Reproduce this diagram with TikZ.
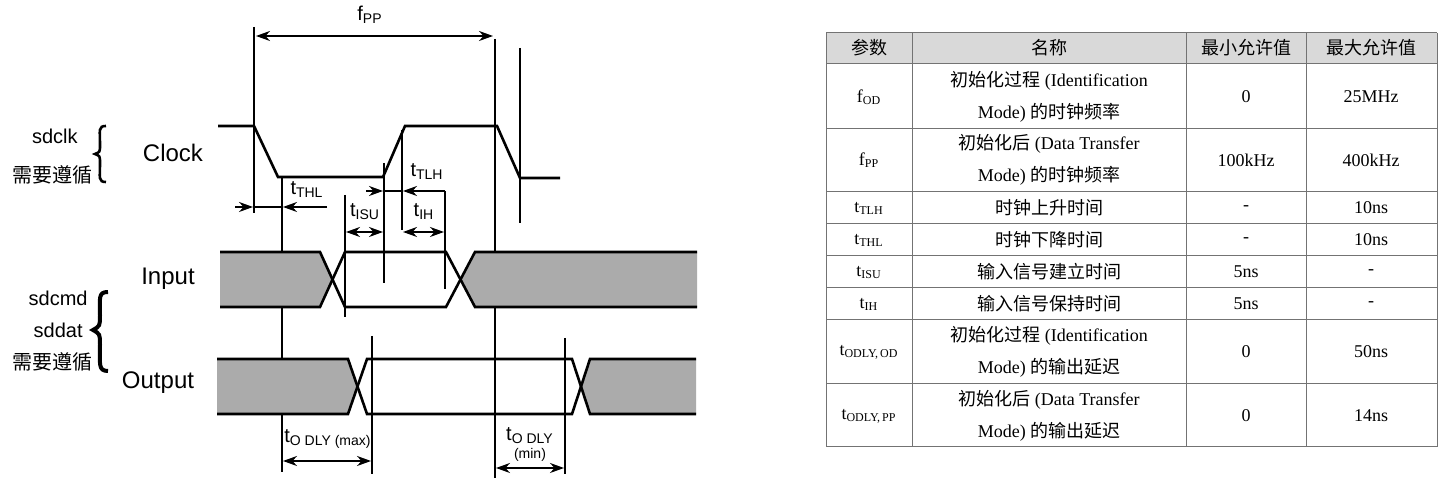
\documentclass[tikz,border=0pt]{standalone}
\usepackage{fontspec}
\setmainfont{Liberation Serif}
\setsansfont{Liberation Sans}
\newfontfamily\cjk{Noto Sans CJK SC}
\usetikzlibrary{arrows.meta}
\tikzset{
  sig/.style={line width=1.3pt},
  guide/.style={line width=0.9pt},
  dim/.style={line width=0.9pt,-{Stealth[length=7pt,width=5pt]}},
  ddim/.style={line width=0.9pt,{Stealth[length=7pt,width=5pt]}-{Stealth[length=7pt,width=5pt]}},
  lab/.style={font=\sffamily\fontsize{10}{12}\selectfont,inner sep=0pt},
  sig name/.style={font=\sffamily\fontsize{12}{14}\selectfont,inner sep=0pt},
  side/.style={font=\sffamily\fontsize{10}{12}\selectfont,inner sep=0pt,align=right},
  busfill/.style={fill=black!33},
  cell/.style={font=\fontsize{9}{16}\selectfont,inner sep=0pt,align=center},
  grid/.style={draw=black!55,line width=0.5pt},
}
\begin{document}
\begin{tikzpicture}[x=0.5pt,y=-0.5pt]
\useasboundingbox (0,0) rectangle (1440,490);
% ---------- left labels
\node[side,anchor=east] (sdclk) at (78,136) {sdclk};
\node[side,anchor=east] (nz1) at (93,175) {\cjk 需要遵循};
\draw[line width=1.3pt] (106,126) .. controls (98,126) and (100,130) .. (100,145) .. controls (100,152) .. (95,154) .. controls (100,156) .. (100,163) .. controls (100,178) and (98,182) .. (106,182);
\node[side,anchor=east] (sdcmd) at (88,298) {sdcmd};
\node[side,anchor=east] (sddat) at (83,330) {sddat};
\node[side,anchor=east] (nz2) at (93,362) {\cjk 需要遵循};
\draw[line width=2pt] (108,292) .. controls (98,292) and (100,298) .. (100,315) .. controls (100,326) .. (93,330) .. controls (100,334) .. (100,345) .. controls (100,364) and (98,371) .. (108,371);
\node[sig name] (clk) at (173,153) {Clock};
\node[sig name] (inp) at (168,279) {Input};
\node[sig name] (outp) at (158,383) {Output};
% ---------- guide lines
\draw[guide] (254,27) -- (254,213);
\draw[guide] (282,177) -- (282,472);
\draw[guide] (495,39) -- (495,478);
\draw[guide] (520,48) -- (520,223);
\draw[guide] (345,195) -- (345,317);
\draw[guide] (384,163) -- (384,283);
\draw[guide] (402,130) -- (402,230);
\draw[guide] (445,191) -- (445,289);
\draw[guide] (372,336) -- (372,474);
\draw[guide] (565,338) -- (565,474);
% ---------- clock
\draw[sig] (218,126) -- (254,126) -- (278,177) -- (383,177) -- (405,126) -- (497,126) -- (520,178) -- (560,178);
% ---------- input bus
\fill[busfill] (220,252) -- (320,252) -- (332.5,279.5) -- (320,307) -- (220,307) -- cycle;
\fill[busfill] (697,252) -- (475,252) -- (460.5,279.5) -- (475,307) -- (697,307) -- cycle;
\draw[sig] (220,252) -- (320,252) -- (345,307) -- (446,307) -- (475,252) -- (697,252);
\draw[sig] (220,307) -- (320,307) -- (345,252) -- (446,252) -- (475,307) -- (697,307);
% ---------- output bus
\fill[busfill] (217,359) -- (348,359) -- (357.5,386.5) -- (348,414) -- (217,414) -- cycle;
\fill[busfill] (696,359) -- (590,359) -- (581,386.5) -- (590,414) -- (696,414) -- cycle;
\draw[sig] (217,359) -- (348,359) -- (367,414) -- (572,414) -- (590,359) -- (696,359);
\draw[sig] (217,414) -- (348,414) -- (367,359) -- (572,359) -- (590,414) -- (696,414);
% ---------- dimensions
\coordinate (fa) at (256,36); \coordinate (fb) at (493,36);
\draw[ddim] (fa) -- (fb);
\node[lab] (fpp) at (370,15) {f\textsubscript{PP}};
\coordinate (ta1) at (235,207); \coordinate (ta2) at (253,207);
\coordinate (tb1) at (327,207); \coordinate (tb2) at (283,207);
\draw[dim] (ta1) -- (ta2); \draw[guide] (254,207) -- (282,207); \draw[dim] (tb1) -- (tb2);
\node[lab] (tthl) at (307,190) {t\textsubscript{THL}};
\coordinate (tc1) at (366,191); \coordinate (tc2) at (383,191);
\coordinate (td1) at (445,191); \coordinate (td2) at (403,191);
\draw[dim] (tc1) -- (tc2); \draw[guide] (384,191) -- (402,191); \draw[dim] (td1) -- (td2);
\node[lab] (ttlh) at (427,172) {t\textsubscript{TLH}};
\coordinate (ia) at (346,232); \coordinate (ib) at (383,232);
\draw[ddim] (ia) -- (ib);
\node[lab] (tisu) at (365,212) {t\textsubscript{ISU}};
\coordinate (ic) at (403,232); \coordinate (id) at (444,232);
\draw[ddim] (ic) -- (id);
\node[lab] (tih) at (424,212) {t\textsubscript{IH}};
\coordinate (oa) at (283,461); \coordinate (ob) at (371,461);
\draw[ddim] (oa) -- (ob);
\node[lab] (todm) at (328,439) {t\textsubscript{O DLY (max)}};
\coordinate (oc) at (496,468); \coordinate (od) at (564,468);
\draw[ddim] (oc) -- (od);
\node[lab] (todn) at (530,436) {t\textsubscript{O DLY}};
\node[lab,font=\sffamily\fontsize{7}{8}\selectfont] (tmin) at (530,455) {(min)};
% ---------- table
\fill[black!15] (826,33) rectangle (1437,64);
\foreach \y in {33,64,129,192,224,256,288,320,384,447} \draw[grid] (826,\y) -- (1437,\y);
\foreach \x in {826,912,1186,1306,1437} \draw[grid] (\x,33) -- (\x,447);
\node[cell] (h1) at (869,48) {\cjk 参数};
\node[cell] (h2) at (1049,48) {\cjk 名称};
\node[cell] (h3) at (1246,48) {\cjk 最小允许值};
\node[cell] (h4) at (1371,48) {\cjk 最大允许值};
% rows
\node[cell] (r1a) at (869,97) {f\textsubscript{OD}};
\node[cell] (r1b) at (1049,97) {{\cjk 初始化过程}\ (Identification\\Mode)\ {\cjk 的时钟频率}};
\node[cell] (r1c) at (1246,97) {0};
\node[cell] (r1d) at (1371,97) {25MHz};
\node[cell] (r2a) at (869,160) {f\textsubscript{PP}};
\node[cell] (r2b) at (1049,160) {{\cjk 初始化后}\ (Data Transfer\\Mode)\ {\cjk 的时钟频率}};
\node[cell] (r2c) at (1246,160) {100kHz};
\node[cell] (r2d) at (1371,160) {400kHz};
\node[cell] (r3a) at (869,208) {t\textsubscript{TLH}};
\node[cell] (r3b) at (1049,208) {\cjk 时钟上升时间};
\node[cell] (r3c) at (1246,208) {-};
\node[cell] (r3d) at (1371,208) {10ns};
\node[cell] (r4a) at (869,240) {t\textsubscript{THL}};
\node[cell] (r4b) at (1049,240) {\cjk 时钟下降时间};
\node[cell] (r4c) at (1246,240) {-};
\node[cell] (r4d) at (1371,240) {10ns};
\node[cell] (r5a) at (869,272) {t\textsubscript{ISU}};
\node[cell] (r5b) at (1049,272) {\cjk 输入信号建立时间};
\node[cell] (r5c) at (1246,272) {5ns};
\node[cell] (r5d) at (1371,272) {-};
\node[cell] (r6a) at (869,304) {t\textsubscript{IH}};
\node[cell] (r6b) at (1049,304) {\cjk 输入信号保持时间};
\node[cell] (r6c) at (1246,304) {5ns};
\node[cell] (r6d) at (1371,304) {-};
\node[cell] (r7a) at (869,352) {t\textsubscript{ODLY,\,OD}};
\node[cell] (r7b) at (1049,352) {{\cjk 初始化过程}\ (Identification\\Mode)\ {\cjk 的输出延迟}};
\node[cell] (r7c) at (1246,352) {0};
\node[cell] (r7d) at (1371,352) {50ns};
\node[cell] (r8a) at (869,416) {t\textsubscript{ODLY,\,PP}};
\node[cell] (r8b) at (1049,416) {{\cjk 初始化后}\ (Data Transfer\\Mode)\ {\cjk 的输出延迟}};
\node[cell] (r8c) at (1246,416) {0};
\node[cell] (r8d) at (1371,416) {14ns};
\end{tikzpicture}
\end{document}
